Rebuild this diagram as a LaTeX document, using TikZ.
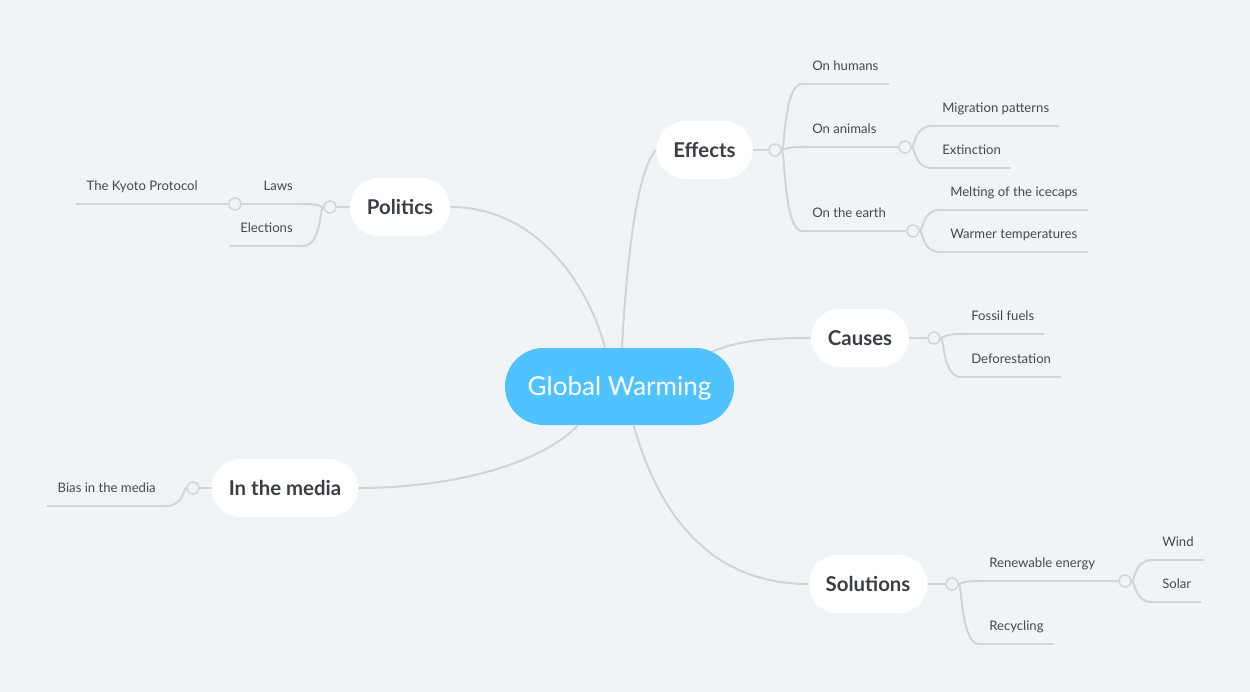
\documentclass[tikz,border=0pt]{standalone}
\usepackage{fontspec}
\setmainfont{Lato}
\usetikzlibrary{calc}
\definecolor{bg}{HTML}{F0F4F7}
\definecolor{ln}{HTML}{D0D5DA}
\definecolor{gwc}{HTML}{50C3FF}
\definecolor{tx}{HTML}{3A3F46}
\definecolor{stx}{HTML}{45494F}
\begin{document}
\begin{tikzpicture}[x=0.75pt,y=-0.75pt,
 conn/.style={draw=ln,line width=1.5pt},
 topic/.style={fill=white, rounded corners=21.75pt, minimum height=43.5pt, inner xsep=12.75pt, text height=10.8pt, text depth=0pt, font=\fontsize{15.3}{18}\selectfont\bfseries, text=tx},
 central/.style={fill=gwc, rounded corners=28.875pt, minimum width=171.75pt, minimum height=57.75pt, text height=14pt, text depth=0pt, font=\fontsize{19.5}{23}\selectfont, text=white},
 sub/.style={inner xsep=7.5pt, inner ysep=9.75pt, text depth=0pt, font=\fontsize{9.85}{12}\selectfont, text=stx},
 subr/.style={sub, anchor=south west},
 subl/.style={sub, anchor=south east},
 joint/.style={circle, draw=ln, line width=1.1pt, fill=bg, minimum size=9pt, inner sep=0pt},
 rb/.style={to path={.. controls ($(\tikztostart)+(10,0)$) and ($(\tikztotarget)+(-18,0)$) .. (\tikztotarget)}},
 lb/.style={to path={.. controls ($(\tikztostart)+(-10,0)$) and ($(\tikztotarget)+(18,0)$) .. (\tikztotarget)}},
]
\fill[bg] (0,0) rectangle (1250,692);
\useasboundingbox (0,0) rectangle (1250,692);

% central and topics
\node[central] (gw) at (619.5,386.5) {Global Warming};
\node[topic] (eff) at (704.5,150) {Effects};
\node[topic] (pol) at (400,207) {Politics};
\node[topic] (cau) at (860,338) {Causes};
\node[topic] (solu) at (868,584) {Solutions};
\node[topic] (med) at (285,488) {In the media};

% main connectors
\draw[conn] ($(gw.north)+(2.5,0)$) .. controls (626,270) and (636,170) .. (eff.west);
\draw[conn] (pol.east) .. controls (540,207) and (590,290) .. ($(gw.north)+(-14.5,0)$);
\draw[conn] ($(gw.north)+(92,4)$) .. controls (740,340) and (770,338) .. (cau.west);
\draw[conn] ($(gw.south)+(14,0)$) .. controls (655,500) and (700,584) .. (solu.west);
\draw[conn] (med.east) .. controls (450,488) and (540,465) .. ($(gw.south)+(-41.5,0)$);

% joints
\node[joint] (jeff) at (775,150) {};
\node[joint] (jani) at (905,147) {};
\node[joint] (jear) at (913,231) {};
\node[joint] (jcau) at (934,338) {};
\node[joint] (jsol) at (952,584) {};
\node[joint] (jren) at (1125,581) {};
\node[joint] (jpol) at (330,207) {};
\node[joint] (jlaw) at (235,204) {};
\node[joint] (jmed) at (193,488) {};

% topic to joint
\draw[conn] (eff.east) -- (jeff);
\draw[conn] (cau.east) -- (jcau);
\draw[conn] (solu.east) -- (jsol);
\draw[conn] (pol.west) -- (jpol);
\draw[conn] (med.west) -- (jmed);

% subtopics right
\node[subr] (hum) at (802,84) {On humans};
\node[subr] (ani) at (802,147) {On animals};
\node[subr] (ear) at (802,231) {On the earth};
\node[subr] (mig) at (932,126) {Migration patterns};
\node[subr] (ext) at (932,168) {Extinction};
\node[subr] (mel) at (940,210) {Melting of the icecaps};
\node[subr] (war) at (940,252) {Warmer temperatures};
\node[subr] (fos) at (961,334) {Fossil fuels};
\node[subr] (def) at (961,377) {Deforestation};
\node[subr] (ren) at (979,581) {Renewable energy};
\node[subr] (rec) at (979,644) {Recycling};
\node[subr] (win) at (1152,560) {Wind};
\node[subr] (sola) at (1152,602) {Solar};
% subtopics left
\node[subl] (law) at (303,204) {Laws};
\node[subl] (ele) at (303,246) {Elections};
\node[subl] (kyo) at (208,204) {The Kyoto Protocol};
\node[subl] (bia) at (166,506) {Bias in the media};

% underlines
\foreach \n in {hum,mig,ext,mel,war,fos,def,rec,win,sola,ele,bia}
  \draw[conn] (\n.south west) -- (\n.south east);
\draw[conn] (ani.south west) -- (jani);
\draw[conn] (ear.south west) -- (jear);
\draw[conn] (ren.south west) -- (jren);
\draw[conn] (jlaw) -- (law.south east);
\draw[conn] (kyo.south west) -- (jlaw);

% branch connectors
\draw[conn] (jeff) to[rb] (hum.south west);
\draw[conn] (jeff) to[rb] (ani.south west);
\draw[conn] (jeff) to[rb] (ear.south west);
\draw[conn] (jani) to[rb] (mig.south west);
\draw[conn] (jani) to[rb] (ext.south west);
\draw[conn] (jear) to[rb] (mel.south west);
\draw[conn] (jear) to[rb] (war.south west);
\draw[conn] (jcau) to[rb] (fos.south west);
\draw[conn] (jcau) to[rb] (def.south west);
\draw[conn] (jsol) to[rb] (ren.south west);
\draw[conn] (jsol) to[rb] (rec.south west);
\draw[conn] (jren) to[rb] (win.south west);
\draw[conn] (jren) to[rb] (sola.south west);
\draw[conn] (jpol) to[lb] (law.south east);
\draw[conn] (jpol) to[lb] (ele.south east);
\draw[conn] (jmed) to[lb] (bia.south east);
\end{tikzpicture}
\end{document}
